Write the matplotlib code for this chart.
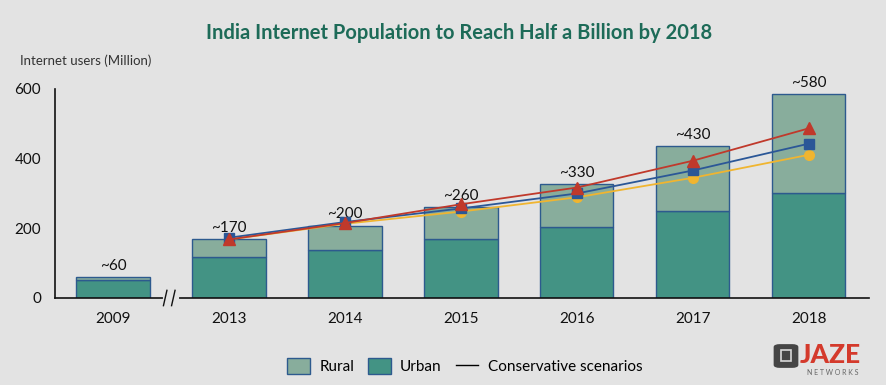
import matplotlib.pyplot as plt
from matplotlib.patches import Patch, FancyBboxPatch, Rectangle
from matplotlib.lines import Line2D

plt.rcParams['font.family'] = ['Lato', 'DejaVu Sans']

years = ['2009', '2013', '2014', '2015', '2016', '2017', '2018']
urban = [51, 119, 139, 168, 205, 249, 300]
rural = [9, 49, 69, 92, 123, 186, 286]
totals = ['~60', '~170', '~200', '~260', '~330', '~430', '~580']

# scenario lines start at 2013
scen_years = years[1:]
high = [168, 215, 269, 317, 394, 487]
mid = [173, 218, 257, 300, 366, 443]
low = [168, 213, 248, 289, 345, 411]

bg = '#e3e3e3'
c_rural = '#88ad9c'
c_urban = '#439384'
c_edge = '#2d5a8e'

fig = plt.figure(figsize=(8.87, 3.85), dpi=100, facecolor=bg)
ax = fig.add_axes([0.062, 0.226, 0.918, 0.543])
ax.set_facecolor(bg)

x = list(range(len(years)))
w = 0.63
ax.bar(x, urban, w, color=c_urban, edgecolor=c_edge, linewidth=1.0, zorder=2)
ax.bar(x, rural, w, bottom=urban, color=c_rural, edgecolor=c_edge, linewidth=1.0, zorder=2)

for i, t in enumerate(totals):
    ax.annotate(t, (x[i], urban[i] + rural[i]), xytext=(0, 3), textcoords='offset points',
                ha='center', va='bottom', fontsize=11, color='#111111')

xs = x[1:]
ax.plot(xs, low, color='#f0b530', lw=1.3, marker='o', ms=7, zorder=3)
ax.plot(xs, mid, color='#2b5797', lw=1.3, marker='s', ms=7, zorder=4)
ax.plot(xs, high, color='#c0392b', lw=1.3, marker='^', ms=8, zorder=5)

ax.set_xlim(-0.5, 6.52)
ax.set_ylim(0, 600)
ax.set_yticks([0, 200, 400, 600])
ax.set_xticks(x)
ax.set_xticklabels(years)
ax.tick_params(length=0, labelsize=11, colors='#111111', pad=10)
ax.tick_params(axis='y', pad=10)
for s in ['top', 'right']:
    ax.spines[s].set_visible(False)
for s in ['left', 'bottom']:
    ax.spines[s].set_color('#111111')
    ax.spines[s].set_linewidth(1.2)

# axis break marks
for dx in (-0.035, 0.035):
    ax.plot([0.47 + dx, 0.50 + dx], [-22, 22], color='#111111', lw=1.0,
            clip_on=False, zorder=6)
ax.plot([0.45, 0.55], [0, 0], color=bg, lw=3, clip_on=False, zorder=5)

fig.text(0.517, 0.913, 'India Internet Population to Reach Half a Billion by 2018',
         ha='center', va='center', fontsize=14.5, fontweight='bold', color='#1d6b58')
fig.text(0.023, 0.842, 'Internet users (Million)', ha='left', va='center',
         fontsize=9.5, color='#333333')

handles = [Patch(facecolor=c_rural, edgecolor=c_edge),
           Patch(facecolor=c_urban, edgecolor=c_edge),
           Line2D([], [], color='black', lw=1)]
fig.legend(handles, ['Rural', 'Urban', 'Conservative scenarios'], loc='center',
           bbox_to_anchor=(0.524, 0.049), ncol=3, frameon=False, fontsize=11,
           handlelength=1.5, handleheight=1.3, handletextpad=0.6, columnspacing=0.9)

# logo
fig.add_artist(FancyBboxPatch((777 / 887, 1 - 366 / 385), 18 / 887, 20 / 385,
                              boxstyle='round,pad=0.003,rounding_size=0.006',
                              transform=fig.transFigure, color='#454545'))
fig.add_artist(Rectangle((781 / 887, 1 - 361 / 385), 10 / 887, 11 / 385,
                         transform=fig.transFigure, facecolor='none',
                         edgecolor='#d8d8d8', lw=1.2))
fig.text(0.936, 0.079, 'JAZE', ha='center', va='center', fontsize=19,
         fontweight='black', color='#d43a2c')
fig.text(0.939, 0.032, 'N E T W O R K S', ha='center', va='center', fontsize=5,
         color='#666666')

fig.savefig('out.png', dpi=100, facecolor=bg)
